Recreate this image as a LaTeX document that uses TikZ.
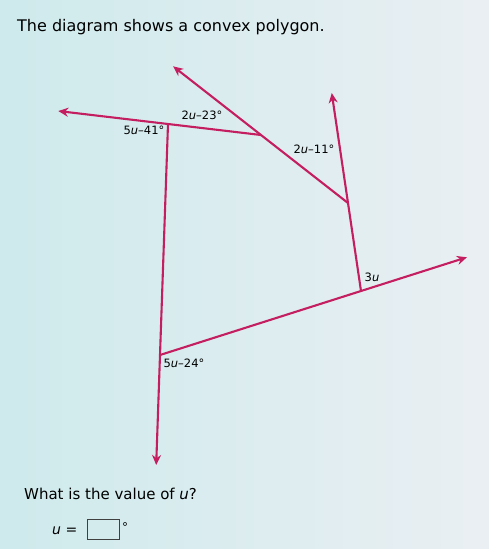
\documentclass[tikz,border=0pt]{standalone}
\usepackage{fontspec}
\setmainfont{DejaVu Sans}
\usetikzlibrary{arrows.meta,calc}
\definecolor{bgleft}{RGB}{206,234,236}
\definecolor{bgright}{RGB}{234,239,243}
\definecolor{edge}{RGB}{196,30,96}
\begin{document}
\begin{tikzpicture}[x=1pt,y=-1pt]
\tikzstyle{edgeline}=[draw=edge,line width=2.1pt]
\tikzstyle{ray}=[edgeline,-{Stealth[length=10pt,width=9pt]}]
\tikzstyle{anglabel}=[font=\fontsize{11.5}{13}\selectfont,inner sep=0pt]
\tikzstyle{prompt}=[font=\fontsize{15}{18}\selectfont,anchor=base west,inner sep=0pt]
\useasboundingbox (0,0) rectangle (489,549);
\shade[left color=bgleft,right color=bgright] (0,0) rectangle (489,549);
\path (168,124) coordinate (A) (261,135) coordinate (B) (348,203) coordinate (C)
  (361,291) coordinate (D) (160,355) coordinate (E);
\path ($(A)!1.476!(E)$) coordinate (tipE) ($(E)!1.527!(D)$) coordinate (tipD)
  ($(D)!2.25!(C)$) coordinate (tipC) ($(C)!2.01!(B)$) coordinate (tipB)
  ($(B)!2.18!(A)$) coordinate (tipA);
\draw[ray] (A) -- (tipE);
\draw[ray] (E) -- (tipD);
\draw[ray] (D) -- (tipC);
\draw[ray] (C) -- (tipB);
\draw[ray] (B) -- (tipA);
\node[anglabel] (angA) at (144,130) {5\textit{u}--41°};
\node[anglabel] (angB) at (202,115) {2\textit{u}--23°};
\node[anglabel] (angC) at (314,149) {2\textit{u}--11°};
\node[anglabel] (angD) at (372,277) {3\textit{u}};
\node[anglabel] (angE) at (184,363) {5\textit{u}--24°};
\node[prompt,font=\fontsize{16}{19}\selectfont] (title) at (17,31) {The diagram shows a convex polygon.};
\node[prompt] (question) at (24,499) {What is the value of \textit{u}?};
\node[prompt,font=\fontsize{14}{17}\selectfont] (answer) at (52,534) {\textit{u} =};
\node[draw=darkgray,line width=0.8pt,minimum width=32pt,minimum height=20pt,inner sep=0pt] (box) at (103,529) {};
\node[prompt,font=\fontsize{12}{14}\selectfont] (deg) at (122,531) {°};
\end{tikzpicture}
\end{document}
